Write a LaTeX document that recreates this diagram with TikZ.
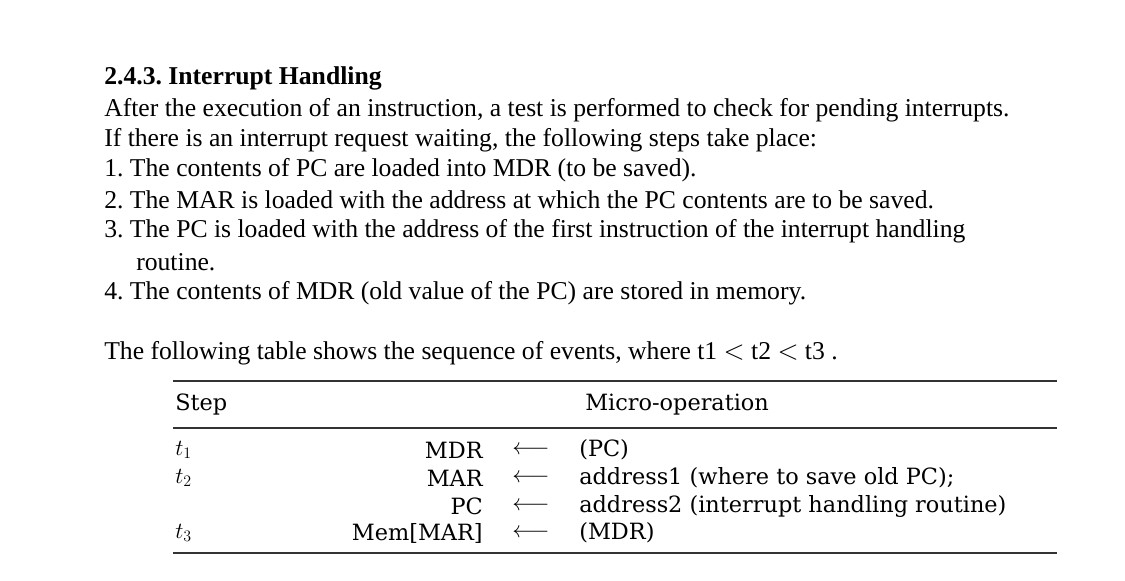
\documentclass[tikz,border=0pt]{standalone}
\usepackage{fontspec}
\setmainfont{Liberation Serif}
\newfontfamily\tabfont{DejaVu Serif}
\begin{document}
\frenchspacing
\begin{tikzpicture}[x=0.75pt,y=-0.75pt,
  tx/.style={anchor=west,inner sep=0pt,font=\fontsize{19.25}{22}\selectfont},
  tb/.style={inner sep=0pt,font=\tabfont\fontsize{16.8}{19}\selectfont},
  rl/.style={line width=0.9pt,draw=black!80}]
\useasboundingbox[fill=white] (0,0) rectangle (1125,581);
\node[tx,font=\fontsize{19.25}{22}\selectfont\bfseries] (h) at (104,78) {2.4.3. Interrupt Handling};
\node[tx] (l1) at (104,110) {After the execution of an instruction, a test is performed to check for pending interrupts.};
\node[tx] (l2) at (104,140) {If there is an interrupt request waiting, the following steps take place:};
\node[tx] (l3) at (104,170) {1. The contents of PC are loaded into MDR (to be saved).};
\node[tx] (l4) at (104,200) {2. The MAR is loaded with the address at which the PC contents are to be saved.};
\node[tx] (l5) at (104,231) {3. The PC is loaded with the address of the first instruction of the interrupt handling};
\node[tx] (l6) at (136,262) {routine.};
\node[tx] (l7) at (104,293) {4. The contents of MDR (old value of the PC) are stored in memory.};
\node[tx] (l8) at (104,353) {The following table shows the sequence of events, where t1 $<$ t2 $<$ t3 .};
\coordinate (a1) at (173,381); \coordinate (b1) at (1057,381);
\coordinate (a2) at (173,428); \coordinate (b2) at (1057,428);
\coordinate (a3) at (173,553); \coordinate (b3) at (1057,553);
\draw[rl] (a1) -- (b1); \draw[rl] (a2) -- (b2); \draw[rl] (a3) -- (b3);
\node[tb,anchor=west] (st) at (175,405) {Step};
\node[tb,anchor=west] (mo) at (585,405) {Micro-operation};
\foreach \y/\t/\l/\r [count=\i] in {450/$t_1$/MDR/(PC),478/$t_2$/MAR/address1 (where to save old PC);,506//PC/address2 (interrupt handling routine),533/$t_3$/Mem[MAR]/(MDR)}{
  \node[tb,anchor=west] (t\i) at (175,\y) {\t};
  \node[tb,anchor=east] (L\i) at (483,\y) {\l};
  \node[tb,anchor=west] (R\i) at (579,\y) {\r};
  \node[tb] (A\i) at (531,\y) {$\longleftarrow$};
}
\end{tikzpicture}
\end{document}
